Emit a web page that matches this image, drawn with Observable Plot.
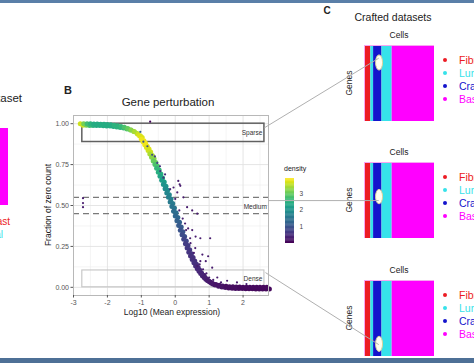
<!DOCTYPE html>
<html><head><meta charset="utf-8">
<script src="https://cdn.jsdelivr.net/npm/d3@7"></script>
<script src="https://cdn.jsdelivr.net/npm/@observablehq/plot@0.6"></script>
<style>
body{margin:0;background:#fff;}
#fig{position:relative;width:474px;height:363px;overflow:hidden;background:#fff;font-family:"Liberation Sans",Arial,sans-serif;}
.abs{position:absolute;white-space:nowrap;line-height:1;}
</style></head><body><div id="fig"></div>
<script>
// ---------------- data ----------------
const xTicks = [-3, -2, -1, 0, 1, 2];
const xMinor = [-2.5, -1.5, -0.5, 0.5, 1.5, 2.5];
const yTicks = [0, 0.25, 0.5, 0.75, 1];
const yMinor = [0.125, 0.375, 0.625, 0.875];
const densityTicks = [1, 2, 3];
const densityDomain = [0, 3.9];

// [log10 mean expression, fraction of zero count, density]
const bandTop = [
  [-2.80,1.000,3.6],[-2.70,1.000,3.1],[-2.60,0.999,2.7],[-2.50,0.999,2.5],[-2.40,0.998,2.4],
  [-2.30,0.998,2.4],[-2.20,0.997,2.4],[-2.10,0.996,2.4],[-2.00,0.995,2.4],[-1.90,0.993,2.4],
  [-1.80,0.990,2.5],[-1.70,0.987,2.5],[-1.60,0.983,2.6],[-1.50,0.978,2.8],[-1.40,0.971,3.0],
  [-1.30,0.962,3.2],[-1.20,0.950,3.4],[-1.10,0.935,3.6]
];
const bandSteep = [
  [-1.05,0.925,3.7],[-1.00,0.905,3.8],[-0.95,0.890,3.8],[-0.90,0.872,3.8],[-0.85,0.855,3.7],
  [-0.80,0.836,3.6],[-0.75,0.815,3.4],[-0.70,0.795,3.2],[-0.65,0.772,3.0],[-0.60,0.750,2.8],
  [-0.55,0.727,2.6],[-0.50,0.703,2.45],[-0.45,0.678,2.3],[-0.40,0.654,2.15],[-0.35,0.628,2.0],
  [-0.30,0.603,1.9],[-0.25,0.576,1.8],[-0.20,0.550,1.7],[-0.15,0.522,1.6],[-0.10,0.494,1.5],
  [-0.05,0.465,1.4],[0.00,0.436,1.3],[0.05,0.407,1.2],[0.10,0.378,1.1],[0.15,0.349,1.0],
  [0.20,0.321,0.9],[0.25,0.293,0.8],[0.30,0.266,0.7],[0.35,0.240,0.65],[0.40,0.215,0.6],
  [0.45,0.192,0.55],[0.50,0.170,0.55],[0.55,0.150,0.55],[0.60,0.131,0.5],[0.65,0.114,0.45],
  [0.70,0.098,0.45],[0.75,0.084,0.4],[0.80,0.071,0.4],[0.85,0.060,0.35],[0.90,0.050,0.35],
  [0.95,0.042,0.3],[1.00,0.035,0.3]
];
const bandBottom = [
  [1.05,0.029,0.25],[1.10,0.024,0.25],[1.20,0.017,0.2],[1.30,0.012,0.2],[1.40,0.008,0.2],
  [1.50,0.006,0.15],[1.60,0.004,0.15],[1.70,0.003,0.15],[1.80,0.002,0.15],[1.90,0.002,0.1],
  [2.00,0.001,0.1],[2.10,0.001,0.1],[2.20,0.001,0.1],[2.30,0.000,0.1],[2.40,0.000,0.1],
  [2.50,0.000,0.1],[2.60,0.000,0.1],[2.70,0.000,0.1]
];
const outliers = [
  [-0.74,1.012,0.05],[-1.03,0.95,1.2],[-0.94,0.89,1.0],[-0.82,0.862,0.9],[-0.68,0.81,0.8],
  [-0.53,0.76,0.7],[-0.44,0.71,0.6],[-0.35,0.67,0.5],[0.09,0.65,0.3],[0.13,0.63,0.3],
  [0.15,0.62,0.3],[-0.05,0.61,0.3],[0.06,0.58,0.3],[0.24,0.55,0.3],[0.35,0.49,0.3],
  [0.50,0.47,0.3],[0.65,0.45,0.3],[0.29,0.39,0.3],[0.38,0.36,0.3],[0.44,0.30,0.3],
  [0.74,0.30,0.3],[1.03,0.30,0.3],[0.59,0.24,0.3],[0.97,0.19,0.3],[0.74,0.16,0.3],
  [1.09,0.12,0.3],[0.65,0.13,0.3],[0.88,0.08,0.3],[1.24,0.06,0.3],[1.53,0.04,0.3],
  [1.82,0.03,0.3],[2.10,0.02,0.3],[-2.72,0.545,0.3],[-2.72,0.515,0.3],[-2.72,0.49,0.3],
  [-0.60,0.80,0.7],[-0.45,0.74,0.6],[-0.30,0.69,0.5],[-0.15,0.60,0.4],[0.00,0.54,0.4],
  [0.12,0.47,0.35],[0.22,0.42,0.35],[0.32,0.35,0.3],[0.45,0.27,0.3],[0.55,0.21,0.3],
  [0.72,0.14,0.3],[0.82,0.11,0.3],[0.92,0.085,0.3],[1.00,0.06,0.3],[1.12,0.045,0.3],
  [1.35,0.03,0.3],[0.50,0.35,0.3],[0.60,0.31,0.3],[0.80,0.20,0.3],[0.90,0.16,0.3]
];
const boxes = [
  {name: "Sparse", x1: -2.74, x2: 2.63, y1: 0.888, y2: 1.0},
  {name: "Dense",  x1: -2.74, x2: 2.63, y1: 0.0,   y2: 0.103}
];
const mediumBand = [0.45, 0.55];
const connectors = [
  {x1: 2.63, y1: 0.975, x2: 6.0, y2: 1.40},
  {x1: 2.75, y1: 0.53,  x2: 6.0, y2: 0.53},
  {x1: 2.66, y1: 0.09,  x2: 6.0, y2: -0.35}
];

const cellTypes = ["Fibroblast", "Luminal", "Crafted", "Basal"];
const typeColors = ["#ec1c24", "#36e2ea", "#1414cc", "#ff00ff"];
const columns = [
  {type: "Fibroblast", share: 9}, {type: "Luminal", share: 4}, {type: "Crafted", share: 12},
  {type: "Luminal", share: 14.5}, {type: "Basal", share: 60.5}
];
const spots = [
  {name: "Sparse", x1: 16.5, x2: 26.5, y1: 0.13, y2: 0.33},
  {name: "Medium", x1: 16.5, x2: 26.5, y1: 0.36, y2: 0.55},
  {name: "Dense",  x1: 16.5, x2: 26.5, y1: 0.74, y2: 0.94}
];

// ---------------- layout helpers ----------------
const fig = document.getElementById("fig");
const FONT = "Liberation Sans, Arial, sans-serif";
function place(node, left, top) {
  node.style.position = "absolute"; node.style.left = left + "px"; node.style.top = top + "px";
  fig.appendChild(node); return node;
}
function label(txt, x, y, o = {}) {
  const d = document.createElement("div");
  d.className = "abs"; d.textContent = txt;
  d.style.fontSize = (o.size || 10) + "px";
  d.style.color = o.color || "#222";
  d.style.fontWeight = o.weight || 400;
  d.style.left = x + "px"; d.style.top = y + "px";
  const tx = o.anchor === "start" ? "0" : o.anchor === "end" ? "-100%" : "-50%";
  d.style.transform = `translate(${tx},-50%) rotate(${o.rotate || 0}deg)`;
  fig.appendChild(d); return d;
}
function box(x, y, w, h, bg) {
  const d = document.createElement("div");
  d.className = "abs"; d.style.left = x + "px"; d.style.top = y + "px";
  d.style.width = w + "px"; d.style.height = h + "px"; d.style.background = bg;
  fig.appendChild(d); return d;
}

const frameB = {width: 474, height: 363, marginLeft: 73, marginRight: 206, marginTop: 115, marginBottom: 68};
const colorScale = {type: "linear", scheme: "viridis", domain: densityDomain};
const band = [...bandTop, ...bandSteep, ...bandBottom];
const X = d => d[0], Y = d => d[1], D = d => d[2];

// ---------------- panel A (cut) ----------------
label("Original dataset", 22, 99, {size: 11.5, anchor: "end"});
place(Plot.plot({
  width: 8, height: 77, margin: 0, style: {background: "transparent"},
  x: {axis: null}, y: {axis: null},
  marks: [Plot.barX([1], {x: d => d, fill: "#ff00ff"})]
}), 0, 128);
label(cellTypes[0], 10, 222, {size: 10, color: typeColors[0], anchor: "end"});
label(cellTypes[1], 3, 235, {size: 10, color: typeColors[1], anchor: "end"});

// ---------------- panel B ----------------
const plotB = Plot.plot({
  ...frameB,
  style: {background: "transparent", fontFamily: FONT},
  x: {domain: [-3, 2.75]},
  y: {domain: [-0.05, 1.05]},
  color: colorScale,
  marks: [
    Plot.ruleX(xMinor, {stroke: "#efefef", strokeWidth: 0.6}),
    Plot.ruleY(yMinor, {stroke: "#efefef", strokeWidth: 0.6}),
    Plot.ruleX(xTicks, {stroke: "#e2e2e2", strokeWidth: 0.9}),
    Plot.ruleY(yTicks, {stroke: "#e2e2e2", strokeWidth: 0.9}),
    Plot.ruleY(mediumBand, {stroke: "#7a7a7a", strokeWidth: 1.3, strokeDasharray: "6,4"}),
    Plot.rect([boxes[1]], {x1: "x1", x2: "x2", y1: "y1", y2: "y2", fill: "none", stroke: "#c4c4c4", strokeWidth: 1.1}),
    Plot.rect([boxes[0]], {x1: "x1", x2: "x2", y1: "y1", y2: "y2", fill: "none", stroke: "#606060", strokeWidth: 1.5}),
    Plot.dot(band, {x: X, y: Y, fill: D, r: 2.5, dx: 2.6, dy: 1.6}),
    Plot.dot(band, {x: X, y: Y, fill: D, r: 2.5}),
    Plot.dot(outliers, {x: X, y: Y, fill: D, r: 1.1}),
    Plot.text(boxes, {x: d => d.x2 - 0.06, y: d => (d.y1 + d.y2) / 2, text: "name", textAnchor: "end", fontSize: 6.5, fill: "#333"}),
    Plot.text(["Medium"], {x: () => 2.7, y: () => (mediumBand[0] + mediumBand[1]) / 2, text: d => d, textAnchor: "end", dy: 1, fontSize: 6.5, fill: "#333"}),
    Plot.frame({stroke: "#b8b8b8"}),
    Plot.axisX(xTicks, {tickSize: 2.5, tickPadding: 2, fontSize: 7, color: "#555", label: null, tickFormat: d => String(d)}),
    Plot.axisY(yTicks, {tickSize: 2.5, tickPadding: 2, fontSize: 7, color: "#555", label: null, tickFormat: d3.format(".2f")})
  ]
});
place(plotB, 0, 0);
label("B", 68, 90, {size: 11, weight: 700});
label("Gene perturbation", 168, 103, {size: 11.5});
label("Fraction of zero count", 48, 205, {size: 8.5, rotate: -90});
label("Log10 (Mean expression)", 172, 312, {size: 8.5});

// colorbar
label("density", 284, 168, {size: 7, anchor: "start"});
const steps = d3.range(0, 3.9, 0.05);
place(Plot.plot({
  width: 30, height: 65, marginLeft: 0, marginRight: 21, marginTop: 0, marginBottom: 0,
  style: {background: "transparent", fontFamily: FONT},
  x: {axis: null}, y: {domain: densityDomain, axis: null}, color: colorScale,
  marks: [
    Plot.rect(steps, {y1: d => d, y2: d => Math.min(d + 0.07, 3.9), fill: d => d + 0.025}),
    Plot.axisY(densityTicks, {anchor: "right", tickSize: 0, tickPadding: 5, fontSize: 6.5, color: "#444", label: null})
  ]
}), 285, 178);

// ---------------- panel C ----------------
label("C", 327, 11, {size: 10, weight: 700});
label("Crafted datasets", 393, 17, {size: 10.5});
const matrixTops = [45, 162, 280];
matrixTops.forEach((top, i) => {
  place(Plot.plot({
    width: 70, height: 76, margin: 0,
    style: {background: "transparent"},
    x: {domain: [0, 100], axis: null},
    y: {domain: [0, 1], axis: null, reverse: true},
    color: {domain: cellTypes, range: typeColors},
    marks: [
      Plot.barX(columns, {x: "share", fill: "type"}),
      Plot.rect([spots[i]], {x1: "x1", x2: "x2", y1: "y1", y2: "y2", fill: "#fffdf0", stroke: "#ddd29a", strokeWidth: 1, rx: 10, ry: 10}),
      Plot.frame({stroke: "#f7a6f2", strokeWidth: 1})
    ]
  }), 364, top);
  label("Cells", 399, top - 10, {size: 8.5});
  label("Genes", 349, top + 38, {size: 8.5, rotate: -90});
  cellTypes.forEach((t, j) => {
    const dot = box(443, top + 15 + 13 * j - 2, 4, 4, typeColors[j]);
    dot.style.borderRadius = "50%";
    label(t, 459, top + 15 + 13 * j, {size: 10.5, color: typeColors[j], anchor: "start"});
  });
});

// connectors (same scales as panel B, drawn on top)
place(Plot.plot({
  ...frameB,
  style: {background: "transparent", pointerEvents: "none"},
  x: {domain: [-3, 2.75], axis: null},
  y: {domain: [-0.05, 1.05], axis: null},
  marks: [Plot.link(connectors, {x1: "x1", y1: "y1", x2: "x2", y2: "y2", stroke: "#b0b0b0", strokeWidth: 1})]
}), 0, 0);

// figure crop bars
box(0, 0, 474, 2.5, "#5a7fa8");
box(0, 358, 474, 5, "#4e7096");
</script></body></html>
